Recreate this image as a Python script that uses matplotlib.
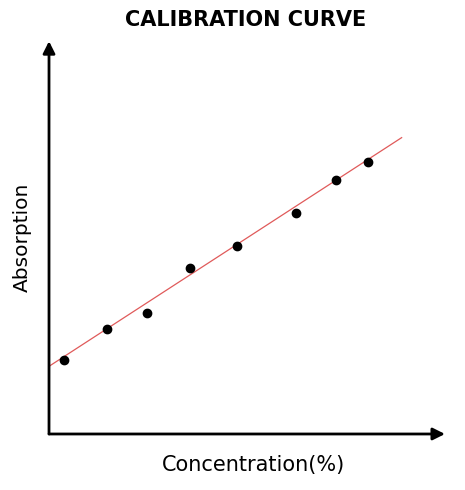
import matplotlib
matplotlib.use('Agg')
import matplotlib.pyplot as plt

concentration = [0.38, 1.46, 2.49, 3.57, 4.76, 6.27, 7.28, 8.10]
absorption = [1.90, 2.71, 3.11, 4.26, 4.83, 5.68, 6.54, 7.00]

# fitted line end points
fit_x = [0.0, 8.95]
fit_y = [1.74, 7.62]

fig = plt.figure(figsize=(4.65, 4.90), dpi=100)
ax = fig.add_axes([0.1054, 0.1143, 0.8473, 0.7937])
ax.set_xlim(0, 10)
ax.set_ylim(0, 10)

ax.plot(fit_x, fit_y, color='#e05a5a', lw=0.9, zorder=2)
ax.plot(concentration, absorption, 'o', color='black', ms=6, zorder=3)

for s in ax.spines.values():
    s.set_visible(False)
ax.set_xticks([])
ax.set_yticks([])

# axes with arrow heads
ax.annotate('', xy=(1.005, 0), xytext=(0, 0), xycoords='axes fraction',
            arrowprops=dict(arrowstyle='-|>,head_length=0.6,head_width=0.3',
                            color='black', lw=2, mutation_scale=12,
                            shrinkA=0, shrinkB=0))
ax.annotate('', xy=(0, 1.01), xytext=(0, 0), xycoords='axes fraction',
            arrowprops=dict(arrowstyle='-|>,head_length=0.6,head_width=0.3',
                            color='black', lw=2, mutation_scale=12,
                            shrinkA=0, shrinkB=0))

fig.text(0.528, 0.959, 'CALIBRATION CURVE', ha='center', va='center',
         fontsize=15, fontweight='bold')
fig.text(0.545, 0.051, 'Concentration(%)', ha='center', va='center', fontsize=15)
fig.text(0.047, 0.516, 'Absorption', ha='center', va='center', fontsize=14.5,
         rotation=90)

fig.savefig('out.png', dpi=100)
